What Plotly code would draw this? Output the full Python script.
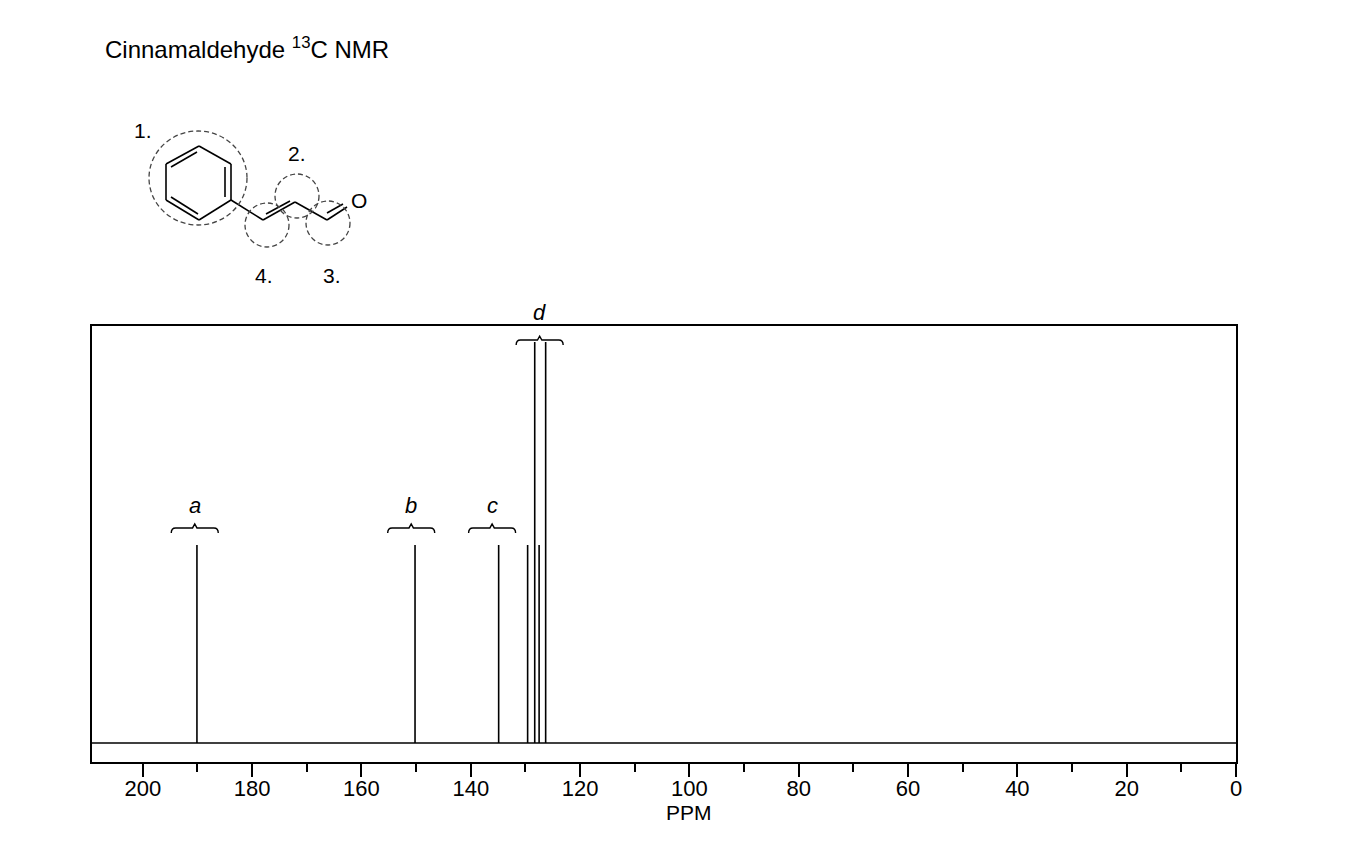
import plotly.graph_objects as go

peak_ppm = [190.1, 150.2, 134.9, 129.6, 128.3, 127.5, 126.3]
peak_int = [1.0, 1.0, 1.0, 1.0, 2.025, 1.0, 2.025]
group_labels = ["a", "b", "c", "d"]
group_center = [190.5, 150.9, 136.1, 127.4]
group_height = [1.086, 1.086, 1.086, 2.035]
tick_vals = [200, 180, 160, 140, 120, 100, 80, 60, 40, 20, 0]

L, R, T, B = 92, 1236, 326, 762
OFF = 8
def px(x): return (x - L) / (R - L)
def py(y): return (B - y) / (B - T)

xs, ys = [], []
for p, h in zip(peak_ppm, peak_int):
    xs += [p, p, None]; ys += [0, h, None]

fig = go.Figure(go.Scatter(x=xs, y=ys, mode="lines", line=dict(color="black", width=1.6),
                           hoverinfo="skip", showlegend=False))
shapes = [dict(type="line", xref="paper", yref="y", x0=0, x1=1, y0=0, y1=0,
               line=dict(color="black", width=1.6))]
ann = []
half = 4.3
for lab, c, h in zip(group_labels, group_center, group_height):
    a, b = c + half, c - half
    path = (f"M {a},{h-0.025} Q {a},{h} {a-0.8},{h} L {c+0.4},{h} L {c},{h+0.02} "
            f"L {c-0.4},{h} L {b+0.8},{h} Q {b},{h} {b},{h-0.025}")
    shapes.append(dict(type="path", xref="x", yref="y", path=path, line=dict(color="black", width=1.4)))
    gap = 28 if h > 1.5 else 22
    yp = (h + 0.096) / 2.202 + gap / (B - T)
    ann.append(dict(x=c, y=yp, xref="x", yref="paper", yanchor="middle", text=f"<i>{lab}</i>",
                    showarrow=False, font=dict(size=22, color="black")))

def seg(x0, y0, x1, y1, w=1.6):
    shapes.append(dict(type="line", xref="paper", yref="paper", x0=px(x0), y0=py(y0), x1=px(x1), y1=py(y1),
                       line=dict(color="black", width=w)))
hexv = [(199, 146), (231, 164), (231, 200), (199, 220), (166, 200), (166, 164)]
for i in range(6):
    seg(*hexv[i], *hexv[(i + 1) % 6])
seg(197, 152, 171, 167); seg(225, 167, 225, 197); seg(171, 197, 198, 214)
chain = [(231, 200), (263, 220), (295, 202), (327, 220), (347, 207)]
for i in range(len(chain) - 1):
    seg(*chain[i], *chain[i + 1])
seg(266, 214, 290, 201); seg(327, 213, 343, 204)
for cx, cy, rx, ry in [(198, 178, 49, 47), (297, 196, 22, 22), (267, 225, 22, 22), (328, 223, 22, 22)]:
    shapes.append(dict(type="circle", xref="paper", yref="paper", x0=px(cx - rx), x1=px(cx + rx),
                       y0=py(cy + ry), y1=py(cy - ry), line=dict(color="#444", width=1.3, dash="5px,3px")))
for t, x, y in [("O", 359, 200), ("1.", 143, 130), ("2.", 297, 153), ("4.", 264, 275), ("3.", 332, 275)]:
    ann.append(dict(x=px(x), y=py(y), xref="paper", yref="paper", xanchor="center", yanchor="middle",
                    text=t, showarrow=False, font=dict(size=21, color="black")))
ann.append(dict(x=px(103), y=py(48), xref="paper", yref="paper", xanchor="left", yanchor="middle",
                text="Cinnamaldehyde <sup>13</sup>C NMR", showarrow=False, font=dict(size=24, color="black")))
ann.append(dict(x=100, y=py(812), xref="x", yref="paper", yanchor="middle", text="PPM", showarrow=False,
                font=dict(size=21, color="black")))

fig.update_layout(
    width=1350, height=864, margin=dict(l=L - OFF, r=1350 - R + OFF, t=T - OFF, b=864 - B + OFF),
    paper_bgcolor="white", plot_bgcolor="white",
    font=dict(family="Liberation Sans, Arial", color="black"),
    shapes=shapes, annotations=ann,
    xaxis=dict(range=[209.3, 0], tickvals=tick_vals, ticks="outside", ticklen=13, tickwidth=1.5,
               tickcolor="black", showgrid=False, zeroline=False, showline=True, mirror=True,
               linecolor="black", linewidth=1.6, tickfont=dict(size=22), ticklabelstandoff=-7,
               minor=dict(dtick=10, tick0=0, ticks="outside", ticklen=8, tickcolor="black", tickwidth=1.5)),
    yaxis=dict(range=[-0.096, 2.106], showticklabels=False, ticks="", showgrid=False, zeroline=False,
               showline=True, mirror=True, linecolor="black", linewidth=1.6),
)
fig.write_html("out.html")
